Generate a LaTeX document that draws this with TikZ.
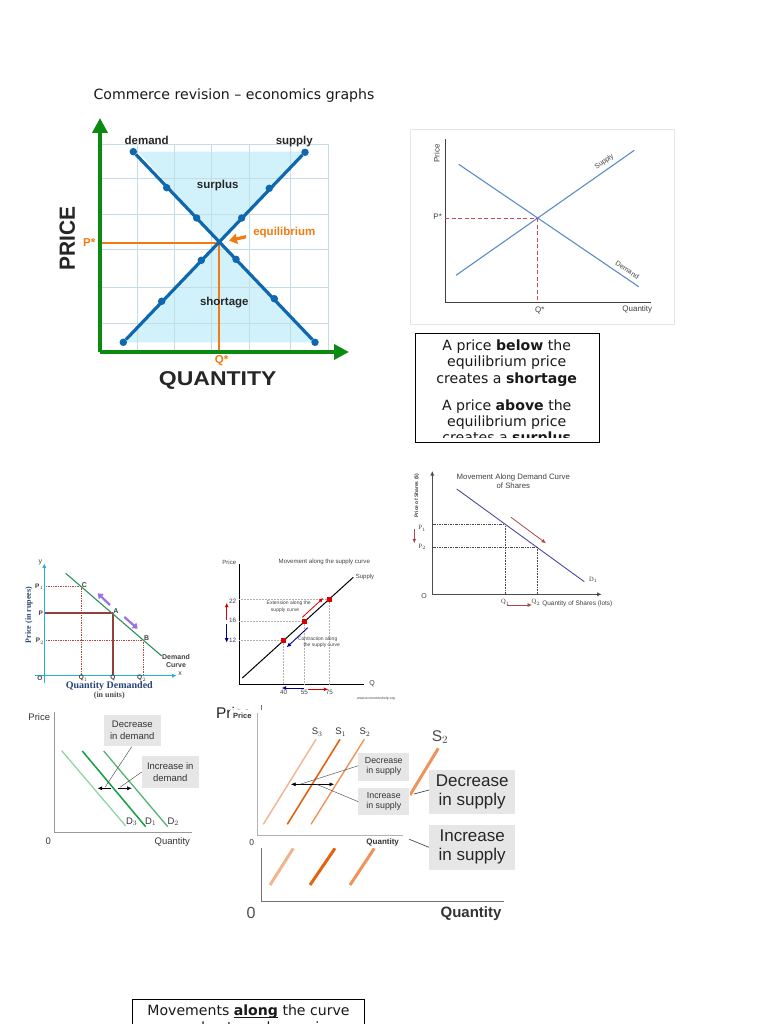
\documentclass[tikz,border=0pt]{standalone}
\usepackage{fontspec}
\setmainfont{Liberation Sans}
\newfontfamily\docfont{DejaVu Sans}
\newfontfamily\serifont{Liberation Serif}
\usetikzlibrary{arrows.meta}
\newcommand{\fsz}[1]{\fontsize{#1}{#1}\selectfont}
\newcommand{\lowrule}[1]{\setbox0\hbox{#1}\rlap{\rule[-1.7pt]{\wd0}{0.9pt}}#1}
\definecolor{axisgreen}{HTML}{0B8A12}
\definecolor{curveblue}{HTML}{0F68AE}
\definecolor{gridblue}{HTML}{C3DCE6}
\definecolor{zoneblue}{HTML}{D2F2FB}
\definecolor{eqorange}{HTML}{F27A10}
\definecolor{plainblue}{HTML}{5B8CC8}
\definecolor{dashred}{HTML}{D0455A}
\definecolor{shareblue}{HTML}{4A4AA0}
\definecolor{brickred}{HTML}{A84848}
\definecolor{rupeegreen}{HTML}{2F8F5A}
\definecolor{rupeeblue}{HTML}{25B0D8}
\definecolor{rupeered}{HTML}{B04848}
\definecolor{headblue}{HTML}{2A4478}
\definecolor{arrowpurple}{HTML}{9B72E6}
\definecolor{dthree}{HTML}{90D4A4}
\definecolor{done}{HTML}{12A044}
\definecolor{dtwo}{HTML}{52B474}
\definecolor{sthree}{HTML}{F2B48F}
\definecolor{sone}{HTML}{E2640F}
\definecolor{stwo}{HTML}{F0935A}
\definecolor{labelgrey}{HTML}{E6E6E6}
\tikzset{
  doctext/.style={font=\docfont\fsz{14.1},anchor=base,text=black!90},
  smalltext/.style={font=\fsz{7},text=black!75},
  tinytext/.style={font=\fsz{5},text=black!75},
  labeltext/.style={font=\fsz{9.5},text=black!80},
  chartlabel/.style={font=\bfseries\fsz{11.5},text=black!85},
  orangelabel/.style={font=\bfseries\fsz{11.5},text=eqorange},
  greybox/.style={fill=labelgrey},
  dot/.style={circle,fill=curveblue,minimum size=7.5pt},
  reddot/.style={rectangle,fill=red!85!black,minimum size=4.5pt},
  gridline/.style={gridblue,line width=0.9pt},
  smallarrow/.style={-{Latex[length=4.5pt,width=4pt]}},
  leader/.style={line width=0.45pt,black!70},
  bigleader/.style={line width=0.7pt,black!70},
}
\begin{document}
\begin{tikzpicture}
    [x=1pt,y=-1pt,every node/.style={inner sep=0,outer sep=0}]
  \useasboundingbox (0,0) rectangle (768,1024);
  \clip (0,0) rectangle (768,1024);

  \node[doctext] (heading) at (234,100) {Commerce revision – economics graphs};

  % first graph
  \fill[zoneblue] (138.3,151.7) -- (303,151.7) -- (219.3,242.7) -- cycle;
  \fill[zoneblue] (123.3,342.3) -- (315,342.3) -- (219.3,242.7) -- cycle;
  \draw[gridline] (102,144) -- (328,144);
  \draw[gridline] (102,178.7) -- (328,178.7);
  \draw[gridline] (102,214) -- (328,214);
  \draw[gridline] (102,249.3) -- (328,249.3);
  \draw[gridline] (102,287.7) -- (328,287.7);
  \draw[gridline] (102,323.7) -- (328,323.7);
  \draw[gridline] (137.3,144) -- (137.3,350);
  \draw[gridline] (174.3,144) -- (174.3,350);
  \draw[gridline] (211.7,144) -- (211.7,350);
  \draw[gridline] (249,144) -- (249,350);
  \draw[gridline] (290,144) -- (290,350);
  \draw[gridline] (328,144) -- (328,350);

  \coordinate (origin) at (100,352);
  \coordinate (ytop) at (100,118);
  \coordinate (xend) at (349,352);
  \coordinate (eq) at (219.3,242.7);
  \coordinate (ptick) at (102,242.7);
  \coordinate (qtick) at (219.3,350);
  \draw[eqorange,line width=1.8pt] (ptick) -- (eq);
  \draw[eqorange,line width=1.8pt] (eq) -- (qtick);
  \draw[axisgreen,line width=3.6pt,-{Triangle[length=15pt,width=15pt]}] (origin) -- (ytop);
  \draw[axisgreen,line width=3.6pt,-{Triangle[length=15pt,width=15pt]}] (origin) -- (xend);

  \node[dot] (dm0) at (133.3,151.7) {};
  \node[dot] (dm1) at (166.7,187.7) {};
  \node[dot] (dm2) at (196.7,218) {};
  \node[dot] (dm3) at (236,259.3) {};
  \node[dot] (dm4) at (274.3,298.7) {};
  \node[dot] (dm5) at (315,342.3) {};
  \node[dot] (sp0) at (123.3,342.3) {};
  \node[dot] (sp1) at (161.7,301.3) {};
  \node[dot] (sp2) at (201.3,260.3) {};
  \node[dot] (sp3) at (241.7,218) {};
  \node[dot] (sp4) at (269.3,188.3) {};
  \node[dot] (sp5) at (305,152.3) {};
  \draw[curveblue,line width=3.2pt] (dm0) -- (dm5);
  \draw[curveblue,line width=3.2pt] (sp0) -- (sp5);

  \node[chartlabel] (demandlabel) at (146.7,140.7) {demand};
  \node[chartlabel] (supplylabel) at (294.3,141.3) {supply};
  \node[chartlabel] (surpluslabel) at (217.7,186) {surplus};
  \node[chartlabel] (shortagelabel) at (224.3,302.3) {shortage};
  \node[orangelabel] (eqlabel) at (284.3,232.3) {equilibrium};
  \node[orangelabel] (plabel) at (89.3,242.7) {P*};
  \node[orangelabel] (qlabel) at (221.7,361) {Q*};
  \coordinate (eqtail) at (246,236.7);
  \coordinate (eqtip) at (229,240.7);
  \draw[eqorange,line width=3.2pt,-{Triangle[length=8pt,width=10pt]}] (eqtail) -- (eqtip);
  \node[font=\fsz{22},rotate=90,xscale=0.95,text=black!85] (pricelabel) at (67.3,238.3) {\textbf{PRICE}};
  \node[font=\bfseries\fsz{20},xscale=1.15,text=black!85] (quantitylabel) at (217.7,380.5) {QUANTITY};

  % second graph
  \draw[black!10,line width=1pt] (410,129.3) rectangle (674.3,324.3);
  \coordinate (o2) at (445,302);
  \coordinate (y2) at (445,139.3);
  \coordinate (x2) at (650.7,302);
  \coordinate (eq2) at (537.7,218.3);
  \coordinate (p2) at (445,218.3);
  \coordinate (q2) at (537.7,302);
  \coordinate (s2a) at (456,275.3);
  \coordinate (s2b) at (634.3,150.3);
  \coordinate (d2a) at (458.7,164.3);
  \coordinate (d2b) at (638.7,286.7);
  \draw[black!75,line width=0.9pt] (y2) -- (o2) -- (x2);
  \draw[plainblue,line width=1.1pt] (s2a) -- (s2b);
  \draw[plainblue,line width=1.1pt] (d2a) -- (d2b);
  \draw[dashred,line width=1.2pt,dash pattern=on 4pt off 2.5pt] (p2) -- (eq2);
  \draw[dashred,line width=1.2pt,dash pattern=on 4pt off 2.5pt] (eq2) -- (q2);
  \node[smalltext,font=\fsz{8},rotate=90] (price2) at (436.7,153.3) {Price};
  \node[smalltext,font=\fsz{8}] (pstar2) at (437.7,216.7) {P*};
  \node[smalltext,font=\fsz{8}] (qstar2) at (539.7,310) {Q*};
  \node[smalltext,font=\fsz{8}] (quantity2) at (637.3,309.7) {Quantity};
  \node[smalltext,rotate=35] (supply2) at (604.3,162) {Supply};
  \node[smalltext,rotate=-33] (demand2) at (627.3,270) {Demand};

  % price box
  \begin{scope}
    \clip (415.3,333.7) rectangle (599,437);
    \node[doctext] (below1) at (506.7,350) {A price \textbf{below} the};
    \node[doctext] (below2) at (506.7,366) {equilibrium price};
    \node[doctext] (below3) at (506.7,383) {creates a \textbf{shortage}};
    \node[doctext] (above1) at (506.7,410) {A price \textbf{above} the};
    \node[doctext] (above2) at (506.7,426) {equilibrium price};
    \node[doctext] (above3) at (506.7,442.5) {creates a \textbf{surplus}};
  \end{scope}
  \draw[black,line width=0.8pt] (415.3,333.7) rectangle (599,442.7);

  % shares graph
  \coordinate (o3) at (432.3,594.3);
  \coordinate (y3) at (432.3,471);
  \coordinate (x3) at (601.7,594.3);
  \coordinate (d3a) at (456.7,489);
  \coordinate (d3b) at (584.3,581.7);
  \coordinate (p3a) at (433,524.3);
  \coordinate (p3b) at (505.7,524.3);
  \coordinate (p3c) at (505.7,594.3);
  \coordinate (p4a) at (433,547);
  \coordinate (p4b) at (537.3,547);
  \coordinate (p4c) at (537.3,594.3);
  \draw[black!70,line width=0.7pt,smallarrow] (o3) -- (y3);
  \draw[black!70,line width=0.7pt,smallarrow] (o3) -- (x3);
  \draw[shareblue,line width=0.9pt] (d3a) -- (d3b);
  \draw[black!70,line width=0.5pt,dash pattern=on 2.5pt off 1pt on 1pt off 1pt] (p3a) -- (p3b);
  \draw[black!70,line width=0.5pt,dash pattern=on 2.5pt off 1pt on 1pt off 1pt] (p4a) -- (p4b);
  \draw[black!70,line width=0.6pt,densely dotted] (p3b) -- (p3c);
  \draw[black!70,line width=0.6pt,densely dotted] (p4b) -- (p4c);
  \coordinate (mv3a) at (511,517.3);
  \coordinate (mv3b) at (546,543.3);
  \draw[brickred,line width=0.8pt,smallarrow] (mv3a) -- (mv3b);
  \coordinate (pd3a) at (414.3,529.3);
  \coordinate (pd3b) at (414.3,543.3);
  \draw[brickred,line width=0.7pt,smallarrow] (pd3a) -- (pd3b);
  \coordinate (qd3a) at (507.3,605);
  \coordinate (qd3b) at (532,605);
  \draw[brickred,line width=0.7pt,smallarrow] (qd3a) -- (qd3b);
  \node[smalltext,font=\fsz{7.8}] (title3a) at (513.3,477.7) {Movement Along Demand Curve};
  \node[smalltext,font=\fsz{7.8}] (title3b) at (513.3,485.7) {of Shares};
  \node[tinytext,font=\bfseries\fsz{5},rotate=90] (price3) at (416.7,495.7) {Price of Shares (\$)};
  \node[smalltext,font=\serifont\fsz{6.5}] (p31) at (422.3,528.3) {P$_1$};
  \node[smalltext,font=\serifont\fsz{6.5}] (p32) at (422.3,547) {P$_2$};
  \node[smalltext,font=\fsz{7}] (o3label) at (424,596) {O};
  \node[smalltext,font=\serifont\fsz{6.5}] (q31) at (505.3,602.3) {Q$_1$};
  \node[smalltext,font=\serifont\fsz{6.5}] (q32) at (536,602.3) {Q$_2$};
  \node[smalltext,font=\fsz{6.5}] (quantity3) at (577.3,604.3) {Quantity of Shares (lots)};
  \node[smalltext,font=\serifont\fsz{6.5}] (d31) at (593.3,579.7) {D$_1$};

  % rupee graph
  \coordinate (y4top) at (44.3,563.3);
  \coordinate (y4bot) at (44.3,683);
  \coordinate (x4left) at (35,675.7);
  \coordinate (x4end) at (176.7,675.7);
  \coordinate (d4a) at (65.7,573.3);
  \coordinate (d4b) at (161.7,656);
  \coordinate (cpt) at (81.7,586);
  \coordinate (apt) at (113,613);
  \coordinate (bpt) at (143.7,640);
  \coordinate (pc) at (44.3,586);
  \coordinate (pa) at (44.3,613);
  \coordinate (pb) at (44.3,640);
  \coordinate (qc) at (81.7,675.7);
  \coordinate (qa) at (113,675.7);
  \coordinate (qb) at (143.7,675.7);
  \draw[rupeered,line width=0.7pt,densely dotted] (pc) -- (cpt);
  \draw[rupeered,line width=0.7pt,densely dotted] (cpt) -- (qc);
  \draw[rupeered,line width=0.7pt,densely dotted] (pb) -- (bpt);
  \draw[rupeered,line width=0.7pt,densely dotted] (bpt) -- (qb);
  \draw[rupeered!85!black,line width=1.2pt] (pa) -- (apt);
  \draw[rupeered!85!black,line width=1.2pt] (apt) -- (qa);
  \draw[rupeegreen,line width=1.1pt] (d4a) -- (d4b);
  \draw[rupeeblue,line width=1.1pt,smallarrow] (y4bot) -- (y4top);
  \draw[rupeeblue,line width=1.1pt,smallarrow] (x4left) -- (x4end);
  \coordinate (up4a) at (110,605);
  \coordinate (up4b) at (97.7,593.3);
  \coordinate (dn4a) at (124.3,617);
  \coordinate (dn4b) at (137.7,628.7);
  \draw[arrowpurple,line width=2.2pt,-{Triangle[length=5pt,width=7pt]}] (up4a) -- (up4b);
  \draw[arrowpurple,line width=2.2pt,-{Triangle[length=5pt,width=7pt]}] (dn4a) -- (dn4b);
  \node[smalltext] (y4label) at (40.3,562) {y};
  \node[smalltext,font=\bfseries\fsz{6.5}] (p41) at (39.3,586.7) {P$_1$};
  \node[smalltext,font=\bfseries\fsz{6.5}] (p40) at (40.7,613.3) {P};
  \node[smalltext,font=\bfseries\fsz{6.5}] (p42) at (40,641.3) {P$_2$};
  \node[smalltext,font=\bfseries\fsz{7}] (clabel) at (84.3,585.3) {C};
  \node[smalltext,font=\bfseries\fsz{7}] (alabel) at (116,611.3) {A};
  \node[smalltext,font=\bfseries\fsz{7}] (blabel) at (146.7,637.7) {B};
  \node[smalltext,font=\bfseries\fsz{7}] (dcurve1) at (176,656.7) {Demand};
  \node[smalltext,font=\bfseries\fsz{7}] (dcurve2) at (176,665.3) {Curve};
  \node[smalltext,font=\bfseries\fsz{6.5}] (o4) at (40,678) {O};
  \node[smalltext,font=\bfseries\fsz{6.5}] (q41) at (83.3,678.3) {Q$_1$};
  \node[smalltext,font=\bfseries\fsz{6.5}] (q40) at (113,678.3) {Q};
  \node[smalltext,font=\bfseries\fsz{6.5}] (q42) at (141.7,678.3) {Q$_2$};
  \node[smalltext] (x4label) at (180,674) {x};
  \node[font=\serifont\bfseries\fsz{10},text=headblue] (qtydem) at (109.3,686) {Quantity Demanded};
  \node[font=\serifont\bfseries\fsz{8},text=black!70] (inunits) at (109.3,695.7) {(in units)};
  \node[font=\serifont\bfseries\fsz{8},text=headblue,rotate=90] (inrupees) at (29,615) {Price (in rupees)};

  % supply movement graph
  \coordinate (y5) at (239.3,564);
  \coordinate (o5) at (239.3,684.7);
  \coordinate (x5) at (364,684.7);
  \coordinate (s5a) at (242.3,678);
  \coordinate (s5b) at (353.3,577.3);
  \draw[black,line width=0.9pt] (y5) -- (o5) -- (x5);
  \draw[black,line width=1pt] (s5a) -- (s5b);
  \node[reddot] (top5) at (329.3,599.7) {};
  \node[reddot] (mid5) at (304.3,621.7) {};
  \node[reddot] (low5) at (283.3,640.7) {};
  \coordinate (t5l) at (239.3,599.7);
  \coordinate (m5l) at (239.3,621.7);
  \coordinate (l5l) at (239.3,640.7);
  \coordinate (t5b) at (329.3,684.7);
  \coordinate (m5b) at (304.3,684.7);
  \coordinate (l5b) at (283.3,684.7);
  \draw[black!30,line width=0.5pt,densely dotted] (t5l) -- (top5);
  \draw[black!30,line width=0.5pt,densely dotted] (top5) -- (t5b);
  \draw[black!30,line width=0.5pt,densely dotted] (m5l) -- (mid5);
  \draw[black!30,line width=0.5pt,densely dotted] (mid5) -- (m5b);
  \draw[black!30,line width=0.5pt,densely dotted] (l5l) -- (low5);
  \draw[black!30,line width=0.5pt,densely dotted] (low5) -- (l5b);
  \coordinate (ext5a) at (302.3,617.3);
  \coordinate (ext5b) at (323.3,598);
  \coordinate (con5a) at (307.7,627.7);
  \coordinate (con5b) at (286.7,647.3);
  \coordinate (pup5a) at (226.7,620);
  \coordinate (pup5b) at (226.7,602.7);
  \coordinate (pdn5a) at (226.7,624);
  \coordinate (pdn5b) at (226.7,642.7);
  \coordinate (ql5a) at (304.3,688);
  \coordinate (ql5b) at (281.7,688);
  \coordinate (qr5a) at (307.7,689.3);
  \coordinate (qr5b) at (328.3,689.3);
  \draw[red!85!black,line width=0.8pt,smallarrow] (ext5a) -- (ext5b);
  \draw[blue!55!black,line width=0.9pt,smallarrow] (con5a) -- (con5b);
  \draw[red!85!black,line width=0.8pt,smallarrow] (pup5a) -- (pup5b);
  \draw[blue!55!black,line width=0.8pt,smallarrow] (pdn5a) -- (pdn5b);
  \draw[blue!55!black,line width=0.8pt,smallarrow] (ql5a) -- (ql5b);
  \draw[red!85!black,line width=0.8pt,smallarrow] (qr5a) -- (qr5b);
  \node[smalltext,font=\fsz{6.1}] (title5) at (324.3,562.3) {Movement along the supply curve};
  \node[smalltext,font=\fsz{6}] (price5) at (229.3,562) {Price};
  \node[smalltext,font=\fsz{6}] (supply5) at (365,576.7) {Supply};
  \node[tinytext] (ext5one) at (288.7,603.3) {Extension along the};
  \node[tinytext] (ext5two) at (285,610) {supply curve};
  \node[tinytext] (con5one) at (317.7,639.3) {Contraction along};
  \node[tinytext] (con5two) at (321.7,645) {the supply curve};
  \node[smalltext,font=\fsz{6.3}] (n22) at (232.7,601) {22};
  \node[smalltext,font=\fsz{6.3}] (n16) at (232.7,620.7) {16};
  \node[smalltext,font=\fsz{6.3}] (n12) at (232.7,640) {12};
  \node[smalltext,font=\fsz{6.3}] (n40) at (283.7,692.7) {40};
  \node[smalltext,font=\fsz{6.3}] (n55) at (304.3,692.7) {55};
  \node[smalltext,font=\fsz{6.3}] (n75) at (329.3,692.7) {75};
  \node[smalltext] (q5) at (372,684) {Q};
  \node[tinytext,font=\fsz{3.5}] (credit5) at (376,698.3) {www.economicshelp.org};

  % demand shift graph
  \coordinate (y6) at (54.3,711.7);
  \coordinate (o6) at (54.3,832.7);
  \coordinate (x6) at (191.7,832.7);
  \coordinate (d6a) at (61.7,750.7);
  \coordinate (d6b) at (125.7,826);
  \coordinate (d6c) at (82.3,751);
  \coordinate (d6d) at (145.7,826.7);
  \coordinate (d6e) at (103.7,751);
  \coordinate (d6f) at (167.7,826.7);
  \draw[black!40,line width=1pt] (y6) -- (o6) -- (x6);
  \draw[dthree,line width=1.3pt] (d6a) -- (d6b);
  \draw[done,line width=1.5pt] (d6c) -- (d6d);
  \draw[dtwo,line width=1.3pt] (d6e) -- (d6f);
  \node[labeltext] (price6) at (39.3,716.7) {Price};
  \node[labeltext] (zero6) at (48.3,841.7) {0};
  \node[labeltext] (quantity6) at (172.3,841.7) {Quantity};
  \node[labeltext] (d63) at (131.7,821.7) {D$_3$};
  \node[labeltext] (d61) at (150.7,821.7) {D$_1$};
  \node[labeltext] (d62) at (173.3,821.7) {D$_2$};
  \node[greybox,minimum width=56.7pt,minimum height=31pt,labeltext,align=center] (decbox6) at (132.3,730.5) {Decrease\\[3pt]in demand};
  \node[greybox,minimum width=57.3pt,minimum height=32.3pt,labeltext,align=center] (incbox6) at (170.3,772.2) {Increase in\\[3pt]demand};
  \coordinate (mid6l) at (111,788.3);
  \coordinate (tip6l) at (97.7,788.3);
  \coordinate (mid6r) at (118.3,788.3);
  \coordinate (tip6r) at (131.7,788.3);
  \coordinate (lead6a) at (131.7,746.7);
  \coordinate (lead6b) at (105,787.3);
  \coordinate (lead6c) at (141.7,772);
  \coordinate (lead6d) at (120,787.3);
  \draw[black,line width=0.5pt,smallarrow] (mid6l) -- (tip6l);
  \draw[black,line width=0.5pt,smallarrow] (mid6r) -- (tip6r);
  \draw[leader] (lead6a) -- (lead6b);
  \draw[leader] (lead6c) -- (lead6d);

  % lower supply shift graph, covered in the middle by the upper one
  \node[font=\fsz{15.5},text=black!85,anchor=west] (bigprice) at (216,713) {Price};
  \coordinate (y8top) at (261.7,705);
  \coordinate (o8) at (261.7,901);
  \coordinate (x8) at (504.3,901);
  \draw[black!55,line width=0.9pt] (y8top) -- (o8) -- (x8);
  \coordinate (s8a) at (270,885);
  \coordinate (s8b) at (293.3,848.3);
  \coordinate (s8c) at (310,885);
  \coordinate (s8d) at (335,848.3);
  \coordinate (s8e) at (350,885);
  \coordinate (s8f) at (374.3,848.3);
  \draw[sthree,line width=3pt] (s8a) -- (s8b);
  \draw[sone,line width=3pt] (s8c) -- (s8d);
  \draw[stwo,line width=3pt] (s8e) -- (s8f);
  \coordinate (s8g) at (410,795);
  \coordinate (s8h) at (438.3,748.3);
  \draw[stwo,line width=3pt] (s8g) -- (s8h);
  \fill[white] (230,710) rectangle (410,848);
  \node[font=\fsz{15.5},text=black!70] (bigs2) at (440,736.7) {S$_2$};
  \node[greybox,minimum width=86.3pt,minimum height=44.3pt,font=\fsz{17},text=black!85,align=center] (decbox8) at (472.2,792.2) {Decrease\\[2pt]in supply};
  \node[greybox,minimum width=86.3pt,minimum height=44.7pt,font=\fsz{17},text=black!85,align=center] (incbox8) at (472.2,847.4) {Increase\\[2pt]in supply};
  \coordinate (lead8a) at (429,790);
  \coordinate (lead8b) at (414,794);
  \coordinate (lead8c) at (429,847.3);
  \coordinate (lead8d) at (409.3,839.3);
  \draw[bigleader] (lead8a) -- (lead8b);
  \draw[bigleader] (lead8c) -- (lead8d);
  \node[font=\fsz{16},text=black!70] (zero8) at (251,913.3) {0};
  \node[font=\bfseries\fsz{15},text=black!80] (quantity8) at (471,913.3) {Quantity};

  % upper supply shift graph
  \coordinate (y7) at (257.7,713.3);
  \coordinate (o7) at (257.7,835);
  \coordinate (x7) at (403.3,835);
  \coordinate (s7a) at (263.3,824.3);
  \coordinate (s7b) at (316,739.3);
  \coordinate (s7c) at (287.3,824.3);
  \coordinate (s7d) at (340,739.3);
  \coordinate (s7e) at (311,824.3);
  \coordinate (s7f) at (364.3,739.3);
  \draw[black!30,line width=1pt] (y7) -- (o7) -- (x7);
  \draw[sthree,line width=1.4pt] (s7a) -- (s7b);
  \draw[sone,line width=1.6pt] (s7c) -- (s7d);
  \draw[stwo,line width=1.4pt] (s7e) -- (s7f);
  \node[labeltext,font=\bfseries\fsz{7.5}] (price7) at (242.3,716) {Price};
  \node[labeltext,font=\fsz{8.5}] (zero7) at (251.7,842.3) {0};
  \node[labeltext,font=\bfseries\fsz{8}] (quantity7) at (382.7,842.3) {Quantity};
  \node[labeltext] (s73) at (317.3,732.3) {S$_3$};
  \node[labeltext] (s71) at (340.7,732.3) {S$_1$};
  \node[labeltext] (s72) at (365,732.3) {S$_2$};
  \node[greybox,minimum width=51pt,minimum height=28pt,font=\fsz{8.8},text=black!80,align=center] (decbox7) at (383.8,766.7) {Decrease\\[1.5pt]in supply};
  \node[greybox,minimum width=51pt,minimum height=27.3pt,font=\fsz{8.8},text=black!80,align=center] (incbox7) at (383.8,801.6) {Increase\\[1.5pt]in supply};
  \coordinate (mid7) at (315,784.3);
  \coordinate (tip7l) at (291,784.3);
  \coordinate (tip7r) at (334,784.3);
  \coordinate (lead7a) at (358.3,765.7);
  \coordinate (lead7b) at (300,784.3);
  \coordinate (lead7c) at (358.3,801.7);
  \coordinate (lead7d) at (316.7,784.3);
  \draw[black,line width=0.5pt,smallarrow] (mid7) -- (tip7l);
  \draw[black,line width=0.5pt,smallarrow] (mid7) -- (tip7r);
  \draw[leader] (lead7a) -- (lead7b);
  \draw[leader] (lead7c) -- (lead7d);

  % bottom box
  \draw[black,line width=0.8pt] (132.7,1030) -- (132.7,999.3) -- (364.3,999.3) -- (364.3,1030);
  \node[doctext] (along1) at (248.5,1015.7) {Movements \lowrule{\textbf{along}} the curve};
  \node[doctext] (along2) at (248.5,1032) {are due to a change in};
\end{tikzpicture}
\end{document}
